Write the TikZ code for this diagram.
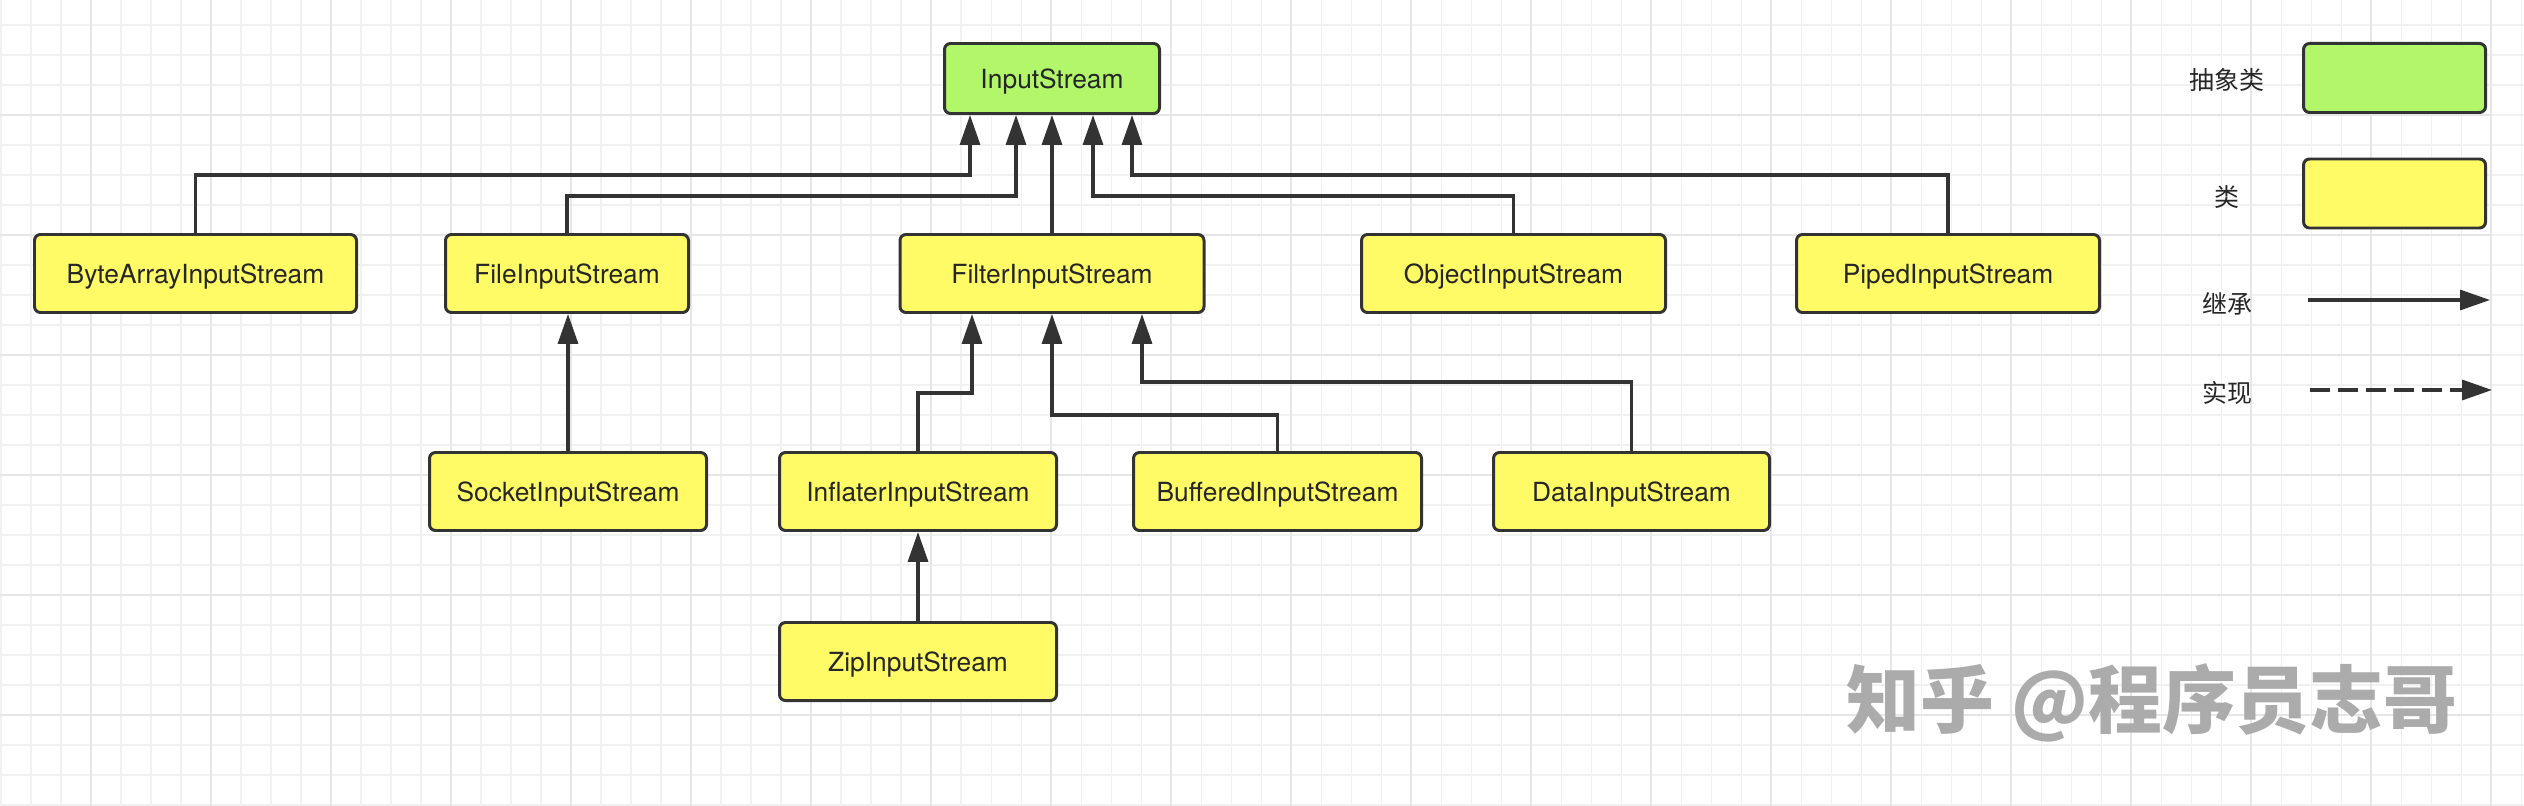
\documentclass[tikz,border=0pt]{standalone}
\usepackage{fontspec}
\setmainfont{TeX Gyre Heros}
\newfontfamily\cjk{Noto Sans CJK SC}
\usetikzlibrary{arrows.meta}
\definecolor{gridc}{HTML}{F1F1F1}
\definecolor{gridmaj}{HTML}{E6E6E6}
\definecolor{linec}{HTML}{333333}
\definecolor{absfill}{HTML}{B2F66A}
\definecolor{clsfill}{HTML}{FFFB66}
\definecolor{markc}{HTML}{ABABAB}

\begin{document}
\begin{tikzpicture}[
    cls/.style={draw=linec, line width=0.85pt, rounded corners=0.06cm, fill=clsfill, text=black!85,
      font=\fontsize{7.5}{9}\selectfont, minimum height=0.78cm, inner sep=0pt, text depth=0pt},
    abscls/.style={cls, fill=absfill},
    inh/.style={draw=linec, line width=0.94pt, -{Triangle[length=0.3cm, width=0.2cm]}},
    lbl/.style={font=\cjk\fontsize{7.1}{9}\selectfont, text=black!85}
  ]

    \useasboundingbox (0, 0) rectangle (25.24, -8.06);
    \fill [white] (0, 0) rectangle (25.24, -8.06);

    % background grid
    \begin{scope}
      \clip (0, 0) rectangle (25.24, -8.06);
      \begin{scope}[shift={(0.01, -0.25)}]
        \draw [gridc, line width=0.3pt, step=0.3] (-0.6, 0.6) grid (25.8, -8.4);
      \end{scope}
      \begin{scope}[shift={(0.91, -1.15)}]
        \draw [gridmaj, line width=0.6pt, step=1.2] (-1.2, 1.2) grid (24.0, -7.2);
      \end{scope}
    \end{scope}

    % classes
    \node [abscls, minimum width=2.15cm, minimum height=0.70cm] (is) at (10.52, -0.785) {InputStream};
    \node [cls, minimum width=3.22cm] (ba) at (1.955, -2.735) {ByteArrayInputStream};
    \node [cls, minimum width=2.43cm] (fi) at (5.67, -2.735) {FileInputStream};
    \node [cls, minimum width=3.04cm] (flt) at (10.52, -2.735) {FilterInputStream};
    \node [cls, minimum width=3.04cm] (ob) at (15.135, -2.735) {ObjectInputStream};
    \node [cls, minimum width=3.03cm] (pi) at (19.48, -2.735) {PipedInputStream};
    \node [cls, minimum width=2.77cm] (so) at (5.68, -4.915) {SocketInputStream};
    \node [cls, minimum width=2.77cm] (inf) at (9.18, -4.915) {InflaterInputStream};
    \node [cls, minimum width=2.88cm] (bu) at (12.775, -4.915) {BufferedInputStream};
    \node [cls, minimum width=2.76cm] (da) at (16.315, -4.915) {DataInputStream};
    \node [cls, minimum width=2.77cm] (zi) at (9.18, -6.615) {ZipInputStream};

    \draw [inh] (ba.north) -- ++(0, 0.58) -| ([xshift=-0.82cm]is.south);
    \draw [inh] (fi.north) -- ++(0, 0.37) -| ([xshift=-0.36cm]is.south);
    \draw [inh] (flt.north) -- (is.south);
    \draw [inh] (ob.north) -- ++(0, 0.37) -| ([xshift=0.41cm]is.south);
    \draw [inh] (pi.north) -- ++(0, 0.58) -| ([xshift=0.80cm]is.south);
    \draw [inh] (so.north) -- (so.north |- fi.south);
    \draw [inh] (inf.north) -- ++(0, 0.58) -| ([xshift=-0.80cm]flt.south);
    \draw [inh] (bu.north) -- ++(0, 0.36) -| (flt.south);
    \draw [inh] (da.north) -- ++(0, 0.69) -| ([xshift=0.90cm]flt.south);
    \draw [inh] (zi) -- (inf);

    % legend
    \node [abscls, minimum width=1.82cm, minimum height=0.69cm] (kabs) at (23.945, -0.78) {};
    \node [cls, minimum width=1.82cm, minimum height=0.69cm] (kcls) at (23.945, -1.935) {};
    \node [lbl] (tabs) at (22.27, -0.80) {抽象类};
    \node [lbl] (tcls) at (22.27, -1.97) {类};
    \node [lbl] (tinh) at (22.27, -3.04) {继承};
    \node [lbl] (timp) at (22.27, -3.93) {实现};
    \coordinate (inha) at (23.08, -3.00);
    \coordinate (inhb) at (24.90, -3.00);
    \coordinate (impa) at (23.10, -3.90);
    \coordinate (impb) at (24.92, -3.90);
    \draw [inh] (inha) -- (inhb);
    \draw [inh, dash pattern=on 0.2cm off 0.08cm] (impa) -- (impb);

    \node [font=\cjk\bfseries\fontsize{21}{24}\selectfont, text=markc] (mark) at (21.52, -7.03) {知乎 @程序员志哥};

  \end{tikzpicture}
\end{document}
